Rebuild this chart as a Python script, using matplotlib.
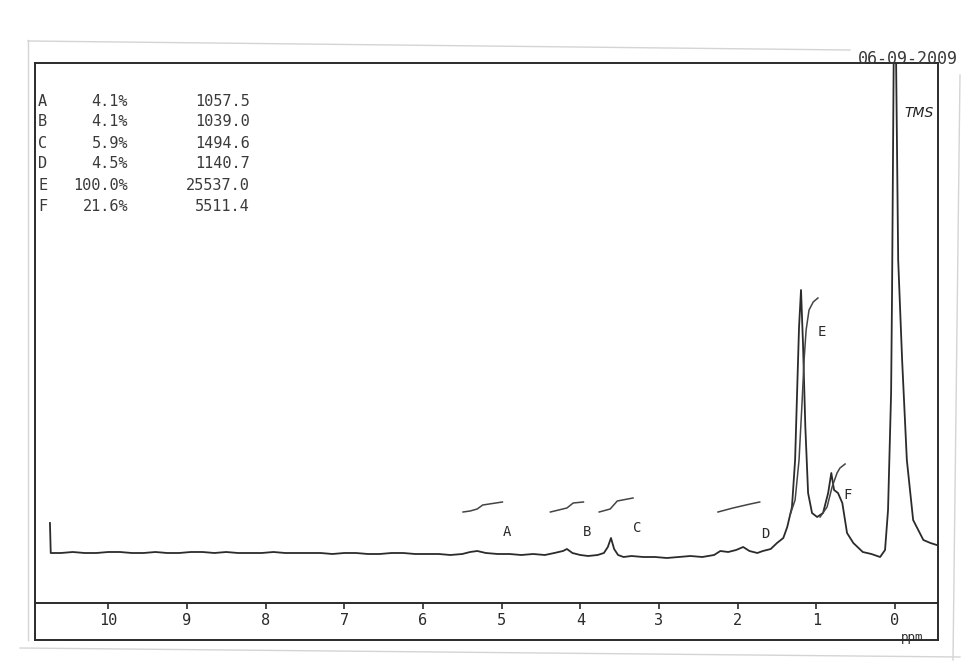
import matplotlib
matplotlib.use("Agg")
import matplotlib.pyplot as plt
from matplotlib.lines import Line2D

# ---------------- data ----------------
# chemical shift (ppm) and trace height (arbitrary units, baseline ~0)
shift_ppm = [10.74, 10.73, 10.60, 10.45, 10.30, 10.15, 10.00, 9.85, 9.70, 9.55,
             9.40, 9.25, 9.10, 8.95, 8.80, 8.65, 8.50, 8.35, 8.20, 8.05,
             7.90, 7.75, 7.60, 7.45, 7.30, 7.15, 7.00, 6.85, 6.70, 6.55,
             6.40, 6.25, 6.10, 5.95, 5.80, 5.65, 5.50, 5.40, 5.31, 5.20,
             5.05, 4.90, 4.75, 4.60, 4.45, 4.33, 4.22, 4.17, 4.10, 4.00,
             3.90, 3.78, 3.70, 3.65, 3.61, 3.57, 3.52, 3.45, 3.35, 3.20,
             3.05, 2.90, 2.75, 2.60, 2.45, 2.30, 2.22, 2.12, 2.02, 1.93,
             1.85, 1.75, 1.68, 1.58, 1.50, 1.42, 1.37, 1.31, 1.27, 1.245,
             1.22, 1.195, 1.17, 1.14, 1.105, 1.055, 0.99, 0.915, 0.85, 0.81,
             0.775, 0.725, 0.67, 0.61, 0.53, 0.41, 0.30, 0.19, 0.127, 0.089,
             0.05, 0.038, 0.015, -0.01, -0.04, -0.09, -0.15, -0.23, -0.36, -0.45,
             -0.53]
intensity = [32, 2, 2, 3, 2, 2, 3, 3, 2, 2,
             3, 2, 2, 3, 3, 2, 3, 2, 2, 2,
             3, 2, 2, 2, 2, 1, 2, 2, 1, 1,
             2, 2, 1, 1, 1, 0, 1, 3, 4, 2,
             1, 1, 0, 1, 0, 2, 4, 6, 2, 0,
             -1, 0, 2, 8, 17, 6, 0, -2, -1, -2,
             -2, -3, -2, -1, -2, 0, 4, 3, 5, 8,
             4, 2, 4, 6, 12, 17, 28, 48, 95, 162,
             228, 265, 212, 128, 62, 42, 38, 42, 62, 82,
             65, 62, 52, 22, 12, 3, 1, -2, 5, 45,
             162, 262, 520, 520, 295, 195, 95, 35, 15, 12,
             10]

# integral curves (ppm, height) for regions A..F
integral_A_ppm = [5.49, 5.40, 5.31, 5.24, 4.99]
integral_A_val = [43, 44, 46, 50, 53]
integral_B_ppm = [4.38, 4.17, 4.09, 3.96]
integral_B_val = [43, 47, 52, 53]
integral_C_ppm = [3.76, 3.62, 3.53, 3.33]
integral_C_val = [43, 46, 54, 57]
integral_D_ppm = [2.25, 2.06, 1.84, 1.72]
integral_D_val = [43, 47, 51, 53]
integral_E_ppm = [1.334, 1.27, 1.22, 1.18, 1.156, 1.13, 1.093, 1.04, 0.98]
integral_E_val = [40, 55, 95, 155, 195, 225, 245, 253, 257]
integral_F_ppm = [0.953, 0.864, 0.80, 0.737, 0.70, 0.635]
integral_F_val = [38, 48, 68, 82, 87, 91]

# region labels
region_names = ["A", "B", "C", "D", "E", "F"]
region_label_ppm = [4.93, 3.91, 3.28, 1.65, 0.93, 0.60]
region_label_val = [23, 23, 27, 21, 223, 60]

# integration table
table_percent = ["4.1%", "4.1%", "5.9%", "4.5%", "100.0%", "21.6%"]
table_value = ["1057.5", "1039.0", "1494.6", "1140.7", "25537.0", "5511.4"]

tick_ppm = [10, 9, 8, 7, 6, 5, 4, 3, 2, 1, 0]
tick_labels = ["10", "9", "8", "7", "6", "5", "4", "3", "2", "1", "0"]

date_text = "06-09-2009"
ref_text = "TMS"

# ---------------- figure ----------------
W, H = 968, 666
fig = plt.figure(figsize=(W / 100, H / 100), dpi=100)
fig.patch.set_facecolor("white")

INK = "#2b2b2b"
MONO = "DejaVu Sans Mono"


def fx(px):
    return px / W


def fy(py):
    return 1 - py / H


# faint scan/paper border lines
for (x0, y0, x1, y1) in [(28, 41, 850, 50), (20, 648, 960, 657), (960, 75, 953, 660), (28, 40, 28, 640)]:
    fig.add_artist(Line2D([fx(x0), fx(x1)], [fy(y0), fy(y1)], color="#d4d4d4", lw=1.0))

# outer chart frame (spectrum box + scale strip)
frame = fig.add_axes([fx(35), fy(640), fx(938) - fx(35), fy(63) - fy(640)])
frame.set_xticks([])
frame.set_yticks([])
frame.patch.set_alpha(0)
for s in frame.spines.values():
    s.set_color(INK)
    s.set_linewidth(1.4)

# spectrum axes
ax = fig.add_axes([fx(35), fy(603), fx(938) - fx(35), fy(63) - fy(603)])
ax.patch.set_alpha(0)
for side in ["top", "left", "right"]:
    ax.spines[side].set_visible(False)
ax.spines["bottom"].set_color(INK)
ax.spines["bottom"].set_linewidth(1.4)

ax.plot(shift_ppm, intensity, color=INK, lw=1.3, solid_joinstyle="round")

integrals = [(integral_A_ppm, integral_A_val), (integral_B_ppm, integral_B_val),
             (integral_C_ppm, integral_C_val), (integral_D_ppm, integral_D_val),
             (integral_E_ppm, integral_E_val), (integral_F_ppm, integral_F_val)]
for xs, ys in integrals:
    ax.plot(xs, ys, color="#444444", lw=1.1)

for name, px, pv in zip(region_names, region_label_ppm, region_label_val):
    ax.text(px, pv, name, ha="center", va="center", fontsize=10, family=MONO, color=INK)

ax.set_xlim(10.93, -0.546)
ax.set_ylim(-48, 492)
ax.set_yticks([])
ax.set_xticks(tick_ppm)
ax.set_xticklabels(tick_labels, family=MONO, fontsize=11, color=INK)
ax.tick_params(axis="x", direction="out", length=4, width=1.2, color=INK, pad=3)

# integration table (top-left)
row_y = [101, 122, 143, 164, 185, 207]
for name, pct, val, y in zip(region_names, table_percent, table_value, row_y):
    fig.text(fx(38), fy(y), name, ha="left", va="center", family=MONO, fontsize=11, color="#3a3a3a")
    fig.text(fx(128), fy(y), pct, ha="right", va="center", family=MONO, fontsize=11, color="#3a3a3a")
    fig.text(fx(250), fy(y), val, ha="right", va="center", family=MONO, fontsize=11, color="#3a3a3a")

# date stamp and handwritten reference label
fig.text(fx(958), fy(64), date_text, ha="right", va="baseline", family=MONO, fontsize=12, color="#3a3a3a")
fig.text(fx(919), fy(113), ref_text, ha="center", va="center", fontsize=10, style="italic",
         family="DejaVu Sans", color="#222222")

# units label
fig.text(fx(912), fy(641), "ppm", ha="center", va="baseline", family=MONO, fontsize=9, color=INK)

fig.savefig("out.png", dpi=100)
